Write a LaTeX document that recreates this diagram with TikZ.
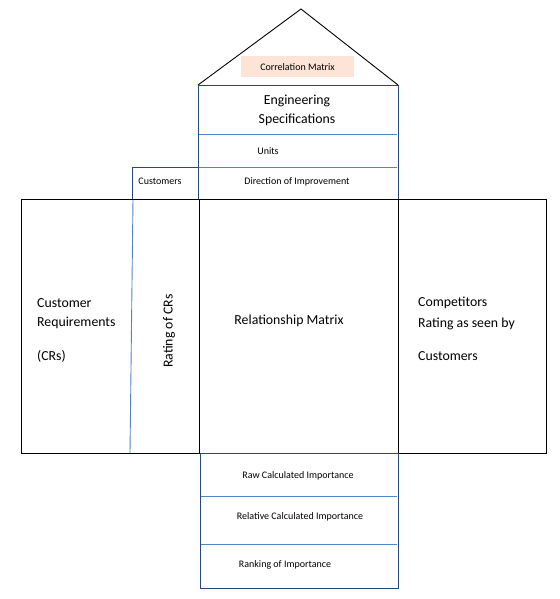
\documentclass[tikz,border=0pt]{standalone}
\usepackage{fontspec}
\setmainfont{Carlito}
\definecolor{boxblue}{RGB}{41,72,130}
\definecolor{lineblue}{RGB}{84,130,200}
\definecolor{peach}{RGB}{252,228,214}
\tikzset{
  blkline/.style={draw=black, line width=0.9},
  blueline/.style={draw=boxblue, line width=0.9},
  thinblue/.style={draw=lineblue, line width=0.9},
  bigtext/.style={font=\fontsize{13.8}{19}\selectfont, inner sep=0},
  smalltext/.style={font=\fontsize{10}{12}\selectfont, inner sep=0},
}
\begin{document}
\begin{tikzpicture}[x=1pt,y=-1pt]
\useasboundingbox (0,0) rectangle (559,599);
% roof
\coordinate (apex) at (301,9);\coordinate (rl) at (198,85);\coordinate (rr) at (398,85);
\draw[blkline] (rl)--(apex)--(rr);
\fill[peach] (241,56) rectangle (354,77);
\node[smalltext] (corr) at (297.5,67) {Correlation Matrix};
% engineering specifications stack
\coordinate (es1) at (198,85);\coordinate (es2) at (398,199);
\draw[blueline] (es1) rectangle (es2);
\coordinate (u1) at (199,134);\coordinate (u2) at (397,134);
\coordinate (d1) at (199,167);\coordinate (d2) at (397,167);
\draw[thinblue] (u1)--(u2);\draw[thinblue] (d1)--(d2);
\node[bigtext, align=center] (eng) at (297,110) {Engineering\\Specifications};
\node[smalltext] (units) at (268,151) {Units};
\node[smalltext] (dir) at (297,182) {Direction of Improvement};
% customers box
\coordinate (cu1) at (132,167);\coordinate (cu2) at (198,199);
\draw[blueline] (cu1) rectangle (cu2);
\node[smalltext] (cust) at (160,181) {Customers};
% main row
\coordinate (m1) at (21,199);\coordinate (m2) at (199,453);
\coordinate (m3) at (398,199);\coordinate (m4) at (546,453);
\coordinate (rt) at (133,199);\coordinate (rb) at (130,453);
\draw[thinblue] (rt)--(rb);
\draw[blkline] (m1) rectangle (m2);
\draw[blkline] (m2) rectangle (m3);
\draw[blkline] (m3) rectangle (m4);
\node[bigtext, anchor=west] (cr1) at (37,303) {Customer};
\node[bigtext, anchor=west] (cr2) at (37,323) {Requirements};
\node[bigtext, anchor=west] (cr3) at (37,356) {(CRs)};
\node[bigtext, rotate=90] (rat) at (169,331) {Rating of CRs};
\node[bigtext] (rel) at (289,321) {Relationship Matrix};
\node[bigtext, anchor=west] (cp1) at (418,303) {Competitors};
\node[bigtext, anchor=west] (cp2) at (418,324) {Rating as seen by};
\node[bigtext, anchor=west] (cp3) at (418,356) {Customers};
% importance stack
\coordinate (b1) at (200,453);\coordinate (b2) at (398,588);
\draw[blueline] (b1) rectangle (b2);
\coordinate (r1) at (201,496);\coordinate (r2) at (397,496);
\coordinate (k1) at (201,544);\coordinate (k2) at (397,544);
\draw[thinblue] (r1)--(r2);\draw[thinblue] (k1)--(k2);
\node[smalltext] (raw) at (298,476) {Raw Calculated Importance};
\node[smalltext] (relc) at (300,517) {Relative Calculated Importance};
\node[smalltext] (rank) at (285,565) {Ranking of Importance};
\end{tikzpicture}
\end{document}
